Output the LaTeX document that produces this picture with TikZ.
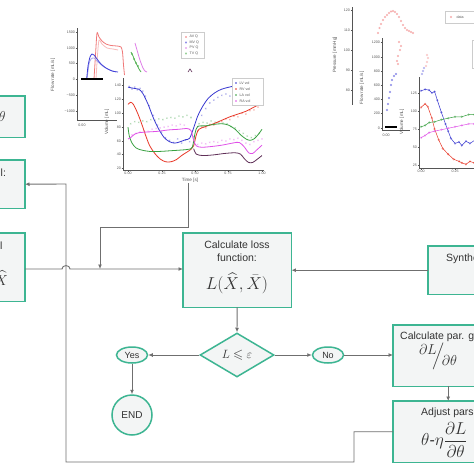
\documentclass[tikz,border=0pt]{standalone}
\usepackage{amsmath,amssymb}
\usepackage{fontspec}
\setmainfont{Liberation Sans}
\usetikzlibrary{shapes.geometric,arrows.meta,plotmarks}
\definecolor{teal1}{HTML}{3DB592}
\definecolor{boxfill}{HTML}{F3F5F5}
\definecolor{lgrey}{HTML}{6F6F6F}
\definecolor{txt}{HTML}{333333}
\definecolor{avred}{HTML}{F07878}
\definecolor{mvblue}{HTML}{4040D8}
\definecolor{pvmag}{HTML}{E080E8}
\definecolor{tvgreen}{HTML}{50B050}
\definecolor{lvblue}{HTML}{3838D0}
\definecolor{rvred}{HTML}{E83828}
\definecolor{lagreen}{HTML}{38A040}
\definecolor{ramag}{HTML}{E050E8}
\definecolor{darkv}{HTML}{603058}
\definecolor{axc}{HTML}{555555}
\tikzset{
 procbox/.style={fill=boxfill, inner sep=0pt},
 boxedge/.style={draw=teal1, line width=1.5pt},
 term/.style={draw=teal1, line width=1.5pt, fill=boxfill, inner sep=0pt, text=txt},
 conn/.style={draw=lgrey, line width=0.9pt},
 arr/.style={conn, -{Latex[length=4.5pt,width=4pt]}},
 btxt/.style={font=\fontsize{10.5}{12}\selectfont, text=txt, inner sep=0pt},
 ptick/.style={font=\fontsize{3.6}{4}\selectfont, text=axc, inner sep=0.5pt},
 plab/.style={font=\fontsize{4.6}{5}\selectfont, text=axc, inner sep=0pt},
 plotaxis/.style={draw=axc, line width=0.35pt},
 pline/.style={line width=0.8pt},
 pmark/.style={only marks, mark=x, mark size=0.9pt, opacity=0.7},
 omark/.style={only marks, mark=o, mark size=0.9pt, opacity=0.7, line width=0.3pt}
}
\begin{document}
\begin{tikzpicture}[x=1pt,y=-1pt]
\useasboundingbox (0,0) rectangle (474,474);
\clip (0,0) rectangle (474,474);
\fill[white] (0,0) rectangle (474,474);

%%%%%%%%%%%%%%%% left flow inset
\draw[plotaxis] (77,28) -- (77,120) -- (118,120);
\foreach \v/\yy in {1500/32,1000/48,500/63,0/79,−500/95,−1000/111}{
  \draw[plotaxis] (75.5,\yy) -- (77,\yy);
  \node[ptick, anchor=east] at (75.5,\yy) {\v};
}
\node[ptick] (fx0) at (82,125) {0.00};
\node[plab, rotate=90] (fyl) at (53,75) {Flow rate [mL/s]};
\draw[avred!50, pline] plot[smooth, tension=0.4] coordinates {(96,79) (97.5,55) (99,40) (102,44) (107,48) (113,49) (118,50)};
\draw[avred, pline] plot[smooth, tension=0.4] coordinates {(94,79) (95.5,55) (97,33) (99,37) (102,41) (106,44) (111,45.5) (117,46) (121,47) (122.5,52) (123.5,65) (124.5,75)};
\draw[mvblue!45, pline] plot[smooth, tension=0.4] coordinates {(87,79) (89,64) (91,59) (94,58) (98,62) (104,67) (110,70) (116,72)};
\draw[mvblue, pline] plot[smooth, tension=0.4] coordinates {(84,79) (86.5,79) (88,66) (90,57) (92,54) (94,55) (97,59) (101,64) (106,68) (112,71) (118,72)};
\draw[black, line width=1.3pt] (81,79) -- (103,79);
\draw[pvmag, pline] plot[smooth] coordinates {(135,43) (137,50) (139,57) (141,63) (143,68) (145,71) (147,72)};
\draw[tvgreen, pline] plot[smooth] coordinates {(131,52) (133,56) (135,61) (137,65) (139,69) (141,72)};
\draw[tvgreen, pmark] plot coordinates {(132,54) (134,59) (136,63) (138,66)};
\draw[darkv, line width=0.6pt] (188,72) -- (190,69) -- (192,72);
% inset legend
\draw[draw=black!20, fill=white, line width=0.3pt] (181,32) rectangle (204,58);
\foreach \c/\t/\yy in {avred/AV Q/37,mvblue/MV Q/42.5,pvmag/PV Q/48,tvgreen/TV Q/53.5}{
  \draw[\c, pmark] plot coordinates {(186,\yy)};
  \node[ptick, anchor=west] at (189,\yy) {\t};
}

%%%%%%%%%%%%%%%% left volume plot
\fill[white] (117,78) rectangle (266,170);
\draw[plotaxis] (123,78) -- (123,170) -- (264,170);
\foreach \v/\yy in {140/85,120/99,100/113,80/127,60/141,40/154,20/168}{
  \draw[plotaxis] (121.5,\yy) -- (123,\yy);
  \node[ptick, anchor=east] at (121.5,\yy) {\v};
}
\foreach \t/\xx in {0.00/128,0.25/162,0.50/195,0.75/228,1.00/262}{
  \draw[plotaxis] (\xx,170) -- (\xx,171.5);
  \node[ptick, anchor=north] at (\xx,171.5) {\t};
}
\node[plab] (tlab) at (190,180) {Time [s]};
\node[plab, rotate=90] (vyl) at (107,122) {Volume [mL]};
\begin{scope}[shift={(128,181.83)}, x=134pt, y=0.6917pt]
\draw[lvblue!60, pmark] plot coordinates {(0.01,138) (0.03,134) (0.05,137) (0.07,133) (0.09,135) (0.11,131) (0.13,124) (0.16,110) (0.19,96) (0.22,82) (0.25,72) (0.28,64) (0.31,60) (0.34,57) (0.37,62) (0.4,56) (0.43,60) (0.46,58) (0.49,65) (0.52,80) (0.55,96) (0.58,106) (0.61,114) (0.64,118) (0.67,122) (0.7,125) (0.73,127) (0.76,124) (0.79,129) (0.82,127) (0.85,130) (0.88,126) (0.91,129) (0.94,127) (0.97,131)};
\draw[rvred!60, pmark] plot coordinates {(0.52,74) (0.55,79) (0.58,78) (0.61,83) (0.64,82) (0.67,86) (0.7,87) (0.73,91) (0.76,90) (0.79,95) (0.82,94) (0.85,99) (0.88,98) (0.91,103) (0.94,104) (0.97,108)};
\draw[lagreen!60, pmark] plot coordinates {(0.02,84) (0.05,87) (0.08,86) (0.11,88) (0.14,87) (0.17,90) (0.2,89) (0.23,91) (0.26,90) (0.29,92) (0.32,93) (0.35,92) (0.38,95) (0.41,94) (0.44,96) (0.47,93) (0.53,84) (0.56,86) (0.59,85) (0.62,88) (0.65,86) (0.68,87) (0.71,85) (0.74,84) (0.77,80) (0.8,78) (0.83,74) (0.86,70) (0.89,66) (0.92,64) (0.95,67) (0.98,70)};
\draw[ramag!60, pmark] plot coordinates {(0.03,68) (0.06,70) (0.09,72) (0.12,74) (0.15,73) (0.18,76) (0.21,77) (0.24,78) (0.27,79) (0.3,80) (0.33,82) (0.36,81) (0.39,83) (0.42,82) (0.52,54) (0.55,56) (0.58,55) (0.61,57) (0.64,58) (0.67,57) (0.7,60) (0.73,59) (0.76,62) (0.79,61) (0.82,63) (0.85,60) (0.88,56) (0.91,54) (0.94,58) (0.97,60) (1.0,62)};
\draw[lvblue, pline] plot[smooth, tension=0.5] coordinates {(0,137) (0.02,136) (0.05,135) (0.08,134) (0.11,128) (0.15,112) (0.19,92) (0.23,76) (0.27,64) (0.31,58) (0.35,56) (0.39,58) (0.43,61) (0.46,63) (0.49,78) (0.52,95) (0.56,110) (0.6,121) (0.65,129) (0.7,134) (0.78,138) (0.86,140) (0.94,141) (1.0,141)};
\draw[rvred, pline] plot[smooth, tension=0.5] coordinates {(0,112) (0.02,115) (0.04,112) (0.07,100) (0.1,85) (0.13,68) (0.16,53) (0.2,41) (0.24,33) (0.28,29) (0.32,29) (0.36,32) (0.4,38) (0.44,43) (0.47,47) (0.49,52) (0.51,68) (0.53,76) (0.58,80) (0.64,84) (0.7,89) (0.76,94) (0.82,98) (0.88,102) (0.94,108) (0.97,111)};
\draw[lagreen, pline] plot[smooth, tension=0.5] coordinates {(0,79) (0.01,66) (0.03,56) (0.06,49) (0.1,46) (0.16,44) (0.24,44) (0.32,45) (0.4,46) (0.45,47) (0.48,50) (0.5,70) (0.52,80) (0.58,81) (0.64,83) (0.7,84) (0.75,82) (0.8,76) (0.84,68) (0.88,62) (0.91,60) (0.94,62) (0.97,68) (1.0,76)};
\draw[ramag, pline] plot[smooth, tension=0.5] coordinates {(0,62) (0.02,64) (0.05,69) (0.08,71) (0.14,72) (0.22,73) (0.3,75) (0.38,76) (0.44,77) (0.47,74) (0.49,60) (0.51,52) (0.55,50) (0.62,51) (0.7,53) (0.78,56) (0.83,57) (0.87,50) (0.9,42) (0.93,41) (0.96,46) (1.0,53)};
\draw[darkv, pline] plot[smooth, tension=0.5] coordinates {(0.49,48) (0.51,40) (0.56,38) (0.64,39) (0.72,41) (0.8,42) (0.84,40) (0.87,33) (0.9,28) (0.93,28) (0.96,32) (1.0,38)};
\end{scope}
\draw[draw=black!20, fill=white, line width=0.3pt] (232,78) rectangle (263,105);
\foreach \c/\t/\yy in {lvblue/LV vol/83,rvred/RV vol/89,lagreen/LA vol/95,ramag/RA vol/101}{
  \draw[\c, pmark] plot coordinates {(236,\yy)};
  \node[ptick, anchor=west] at (239,\yy) {\t};
}

%%%%%%%%%%%%%%%% right plots
\draw[plotaxis] (352,7) -- (352,105);
\foreach \v/\yy in {120/10,110/30,100/50,90/70,80/90}{
  \draw[plotaxis] (350.5,\yy) -- (352,\yy);
  \node[ptick, anchor=east] at (350.5,\yy) {\v};
}
\node[plab, rotate=90] (pyl) at (335,55) {Pressure [mmHg]};
\draw[avred, omark] plot coordinates {(378,33) (379.5,28) (381,24) (383,20) (385,17) (387,15) (389,13) (391,11.5) (393,11) (395,12) (397,14) (399,17) (401,21) (403,25) (405,28) (407,30) (409,31) (411,32) (413,33)};
\draw[draw=black!20, fill=white, line width=0.3pt] (445,11) rectangle (478,23);
\draw[avred, omark] plot coordinates {(451,17)};
\node[ptick, anchor=west] (dleg) at (456,17) {data};

\fill[white] (372,38) rectangle (419,131);
\draw[plotaxis] (382,38) -- (382,130) -- (419,130);
\foreach \v/\yy in {1200/42,1000/57,800/71,600/85,400/99,200/113,0/128}{
  \draw[plotaxis] (380.5,\yy) -- (382,\yy);
  \node[ptick, anchor=east] at (380.5,\yy) {\v};
}
\node[ptick] (fx2) at (386,135) {0.00};
\node[plab, rotate=90] (f2yl) at (362,88) {Flow rate [mL/s]};
\draw[black, line width=1.1pt] (385,127) -- (397,127);
\draw[avred, omark] plot coordinates {(399,42) (401,46) (400,50) (398,56) (397,61) (398,64)};
\draw[mvblue, omark] plot coordinates {(396,74) (394,76) (392,80) (391,85) (390,92) (389,98) (388,104) (387,110)};
\draw[avred!70, omark] plot coordinates {(427,55) (428,58) (427,62) (426,66)};
\draw[mvblue!70, omark] plot coordinates {(424,68) (423,71) (422,74)};

\fill[white] (410,77) rectangle (474,178);
\draw[plotaxis] (419,77) -- (419,168) -- (474,168);
\foreach \v/\yy in {125/93,100/111,75/129,50/147,25/165}{
  \draw[plotaxis] (417.5,\yy) -- (419,\yy);
  \node[ptick, anchor=east] at (417.5,\yy) {\v};
}
\foreach \t/\xx in {0.00/421,0.25/455}{
  \draw[plotaxis] (\xx,168) -- (\xx,169.5);
  \node[ptick, anchor=north] at (\xx,169.5) {\t};
}
\node[plab, rotate=90] (v2yl) at (402,122) {Volume [mL]};
\begin{scope}[shift={(421,183)}, x=136pt, y=0.72pt]
\draw[lvblue, pline, line width=0.5pt] plot coordinates {(0,128) (0.03,130) (0.06,129) (0.08,125) (0.1,127) (0.12,115) (0.15,98) (0.18,82) (0.2,72) (0.22,62) (0.25,55) (0.28,57) (0.3,52) (0.33,58) (0.36,55) (0.4,60)};
\draw[lvblue, omark] plot coordinates {(0,128) (0.03,130) (0.06,129) (0.08,125) (0.1,127) (0.12,115) (0.15,98) (0.18,82) (0.2,72) (0.22,62) (0.25,55) (0.28,57) (0.3,52) (0.33,58) (0.36,55) (0.4,60)};
\draw[rvred, pline, line width=0.5pt] plot coordinates {(0,105) (0.03,110) (0.05,106) (0.08,90) (0.1,75) (0.13,60) (0.16,48) (0.2,40) (0.24,33) (0.28,30) (0.3,28) (0.33,26) (0.36,30) (0.39,28)};
\draw[rvred, omark] plot coordinates {(0,105) (0.03,110) (0.05,106) (0.08,90) (0.1,75) (0.13,60) (0.16,48) (0.2,40) (0.24,33) (0.28,30) (0.3,28) (0.33,26) (0.36,30) (0.39,28)};
\draw[lagreen, pline, line width=0.5pt] plot coordinates {(0,78) (0.03,80) (0.06,84) (0.1,85) (0.15,88) (0.2,90) (0.25,92) (0.3,92) (0.35,95) (0.39,95)};
\draw[lagreen, omark] plot coordinates {(0,78) (0.03,80) (0.06,84) (0.1,85) (0.15,88) (0.2,90) (0.25,92) (0.3,92) (0.35,95) (0.39,95)};
\draw[ramag, pline, line width=0.5pt] plot coordinates {(0,63) (0.03,66) (0.06,70) (0.1,72) (0.15,74) (0.2,76) (0.25,78) (0.3,80) (0.35,82) (0.39,82)};
\draw[ramag, omark] plot coordinates {(0,63) (0.03,66) (0.06,70) (0.1,72) (0.15,74) (0.2,76) (0.25,78) (0.3,80) (0.35,82) (0.39,82)};
\end{scope}
\draw[draw=black!20, fill=white, line width=0.3pt] (472,40) rectangle (480,68);

%%%%%%%%%%%%%%%% flowchart nodes
\node[procbox, minimum width=100pt, minimum height=41pt, anchor=north east] (b1) at (25,96) {};
\node[procbox, minimum width=100pt, minimum height=48pt, anchor=north east] (b2) at (25,160) {};
\node[procbox, minimum width=100pt, minimum height=68pt, anchor=north east] (b3) at (25,233) {};
\node[procbox, minimum width=108pt, minimum height=74pt, anchor=north west] (loss) at (183,233) {};
\node[procbox, minimum width=100pt, minimum height=48pt, anchor=north west] (syn) at (428,246) {};
\node[procbox, minimum width=110pt, minimum height=61pt, anchor=north west] (grad) at (393,325) {};
\node[procbox, minimum width=110pt, minimum height=61pt, anchor=north west] (adj) at (393,401) {};
\foreach \n in {b1,b2,b3,loss,syn,grad,adj}{
  \draw[boxedge] (\n.north west) rectangle (\n.south east);
}

\node[font=\fontsize{15}{15}\selectfont, inner sep=0pt, text=txt] (t1) at (2,116) {$\theta$};
\node[btxt, anchor=base west] (t2) at (0.5,176) {l:};
\node[btxt, anchor=base west] (t3) at (0,249) {l};
\node[font=\fontsize{15}{15}\selectfont, inner sep=0pt, text=txt] (t3b) at (1.5,278) {$\widehat{X}$};

\node[btxt] (l1) at (237,245) {Calculate loss};
\node[btxt] (l2) at (237,258) {function:};
\node[font=\fontsize{16}{16}\selectfont, inner sep=0pt, text=txt] (l3) at (237,283) {$L(\widehat{X},\bar{X})$};

\node[btxt, anchor=base west] (s1) at (446,261) {Synthe};

\node[term, diamond, minimum width=74pt, minimum height=44pt, font=\fontsize{13}{13}\selectfont] (dia) at (237,355) {$L\leqslant\varepsilon$};
\node[term, ellipse, minimum width=31pt, minimum height=16pt, font=\fontsize{9}{9}\selectfont] (yes) at (132,355) {Yes};
\node[term, circle, minimum size=40pt, font=\fontsize{10}{10}\selectfont] (end) at (132,415) {END};
\node[term, ellipse, minimum width=31pt, minimum height=16pt, font=\fontsize{9}{9}\selectfont] (no) at (328,355) {No};

\node[btxt, anchor=base west] (g1) at (400,339.5) {Calculate par. gr};
\node[font=\fontsize{15}{15}\selectfont, inner sep=0pt, text=txt] (g2) at (438,356) {$\raisebox{0.32em}{$\partial L$}\!\!\Big/\!\raisebox{-0.42em}{$\partial\theta$}$};

\node[btxt, anchor=base west] (a1) at (421,415) {Adjust pars.};
\node[font=\fontsize{16}{16}\selectfont, inner sep=0pt, text=txt, anchor=west] (a2) at (421,440) {$\theta\text{-}\eta\dfrac{\partial L}{\partial\theta}$};

%%%%%%%%%%%%%%%% connectors
\coordinate (pl) at (188,183);
\coordinate (c1) at (100,227);
\coordinate (j1) at (100,269);
\coordinate (c2) at (354,462);
\coordinate (c3) at (66,184);
\draw[arr] (pl) |- (c1) -- (j1);
\draw[arr] (b3.east |- j1) -- (62,269) .. controls (62,264.5) and (70,264.5) .. (70,269) -- (loss.west |- j1);
\draw[arr] (syn.west) -- (loss.east |- syn.west);
\draw[arr] (adj.west) -| (c2) -| (c3) -- (b2.east);
\draw[arr] (loss.south) -- (dia.north);
\draw[arr] (dia.west) -- (yes.east);
\draw[arr] (yes.south) -- (end.north);
\draw[arr] (dia.east) -- (no.west);
\draw[arr] (no.east) -- (grad.west |- no.east);
\draw[arr] (grad.south) -- (adj.north);
\end{tikzpicture}
\end{document}
